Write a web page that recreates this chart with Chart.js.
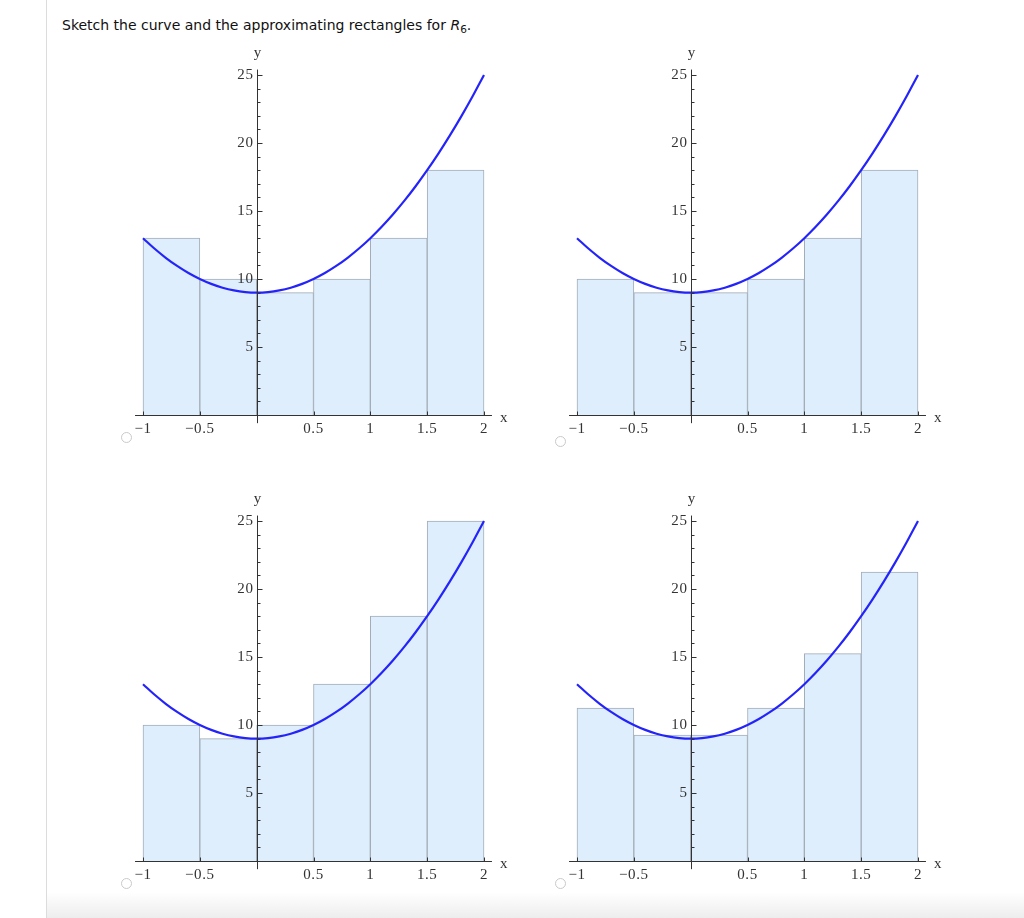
<!DOCTYPE html>
<html>
<head>
<meta charset="utf-8">
<script src="https://cdn.jsdelivr.net/npm/chart.js@4.4.1/dist/chart.umd.min.js"></script>
<style>
  body { margin: 0; background: #fff; width: 1024px; height: 918px; overflow: hidden; position: relative; }
  .rule { position: absolute; left: 46px; top: 0; width: 1px; height: 918px; background: #dcdcdc; }
  .shade { position: absolute; left: 47px; top: 892px; width: 977px; height: 26px;
           background: linear-gradient(to bottom, rgba(0,0,0,0), rgba(0,0,0,0.07)); }
  .title { position: absolute; left: 62px; top: 17px; font: 14px "DejaVu Sans", sans-serif; color: #111; white-space: nowrap; }
  .title sub { font-size: 10.5px; vertical-align: -3px; line-height: 0; }
  canvas { position: absolute; }
  .radio { position: absolute; width: 9px; height: 9px; border: 1px solid #c9c9c9; border-radius: 50%; background: #fff; }
</style>
</head>
<body>
<div class="rule"></div>
<div class="shade"></div>
<div class="title">Sketch the curve and the approximating rectangles for <i>R</i><sub>6</sub>.</div>

<canvas id="p1" width="430" height="410" style="left:100px; top:40px"></canvas>
<canvas id="p2" width="430" height="410" style="left:534px; top:40px"></canvas>
<canvas id="p3" width="430" height="410" style="left:100px; top:486px"></canvas>
<canvas id="p4" width="430" height="410" style="left:534px; top:486px"></canvas>

<div class="radio" style="left:121px; top:432px"></div>
<div class="radio" style="left:555px; top:436px"></div>
<div class="radio" style="left:121px; top:878px"></div>
<div class="radio" style="left:555px; top:878px"></div>

<script>
// curve
const curveX = [-1, -0.9, -0.8, -0.7, -0.6, -0.5, -0.4, -0.3, -0.2, -0.1, 0,
                0.1, 0.2, 0.3, 0.4, 0.5, 0.6, 0.7, 0.8, 0.9, 1,
                1.1, 1.2, 1.3, 1.4, 1.5, 1.6, 1.7, 1.8, 1.9, 2];
const curveY = [13, 12.24, 11.56, 10.96, 10.44, 10, 9.64, 9.36, 9.16, 9.04, 9,
                9.04, 9.16, 9.36, 9.64, 10, 10.44, 10.96, 11.56, 12.24, 13,
                13.84, 14.76, 15.76, 16.84, 18, 19.24, 20.56, 21.96, 23.44, 25];

// rectangle centres and heights for each answer choice
const rectMid = [-0.75, -0.25, 0.25, 0.75, 1.25, 1.75];
const heightsA = [13, 10, 9, 10, 13, 18];
const heightsB = [10, 9, 9, 10, 13, 18];
const heightsC = [10, 9, 10, 13, 18, 25];
const heightsD = [11.25, 9.25, 9.25, 11.25, 15.25, 21.25];

const xTickValues = [-1, -0.5, 0.5, 1, 1.5, 2];
const xTickLabels = ['\u22121', '\u22120.5', '0.5', '1', '1.5', '2'];
const yTickValues = [5, 10, 15, 20, 25];
const yTickLabels = ['5', '10', '15', '20', '25'];

const axisColor = '#333';
const labelFont = '15px "Liberation Serif", "Times New Roman", serif';

const mathAxes = {
  id: 'mathAxes',
  afterDatasetsDraw(chart) {
    const { ctx, scales: { x, y } } = chart;
    const x0 = Math.round(x.getPixelForValue(0)) + 0.5;
    const y0 = Math.round(y.getPixelForValue(0)) + 0.5;
    ctx.save();
    ctx.strokeStyle = axisColor;
    ctx.lineWidth = 1;
    ctx.beginPath();
    ctx.moveTo(x.getPixelForValue(-1.07), y0);
    ctx.lineTo(x.getPixelForValue(2.07), y0);
    ctx.moveTo(x0, y.getPixelForValue(25.4));
    ctx.lineTo(x0, y.getPixelForValue(-0.6));
    xTickValues.forEach(v => {
      const px = Math.round(x.getPixelForValue(v)) + 0.5;
      ctx.moveTo(px, y0);
      ctx.lineTo(px, y0 - 4);
    });
    for (let v = 1; v <= 25; v++) {
      const py = Math.round(y.getPixelForValue(v)) + 0.5;
      ctx.moveTo(x0, py);
      ctx.lineTo(x0 + (v % 5 === 0 ? 5 : 3), py);
    }
    ctx.stroke();

    ctx.fillStyle = '#333';
    ctx.font = labelFont;
    ctx.letterSpacing = '0.6px';
    ctx.textAlign = 'center';
    ctx.textBaseline = 'top';
    xTickValues.forEach((v, i) => ctx.fillText(xTickLabels[i], x.getPixelForValue(v), y0 + 6));
    ctx.textAlign = 'right';
    ctx.textBaseline = 'middle';
    yTickValues.forEach((v, i) => ctx.fillText(yTickLabels[i], x0 - 4, y.getPixelForValue(v)));
    ctx.letterSpacing = '0px';
    ctx.textAlign = 'center';
    ctx.textBaseline = 'alphabetic';
    ctx.fillText('y', x0, y.getPixelForValue(25) - 18);
    ctx.textAlign = 'left';
    ctx.fillText('x', x.getPixelForValue(2) + 16, y0 + 6);
    ctx.restore();
  }
};

function makePanel(id, heights) {
  return new Chart(document.getElementById(id), {
    type: 'bar',
    data: {
      datasets: [
        {
          type: 'line',
          data: curveX.map((v, i) => ({ x: v, y: curveY[i] })),
          borderColor: '#2424fa',
          borderWidth: 2.2,
          pointRadius: 0,
          tension: 0.4,
          fill: false,
          clip: false,
          order: 0
        },
        {
          type: 'bar',
          data: rectMid.map((v, i) => ({ x: v, y: heights[i] })),
          backgroundColor: '#deeefc',
          borderColor: '#a3adb8',
          borderWidth: 1,
          barPercentage: 1,
          categoryPercentage: 1,
          clip: false,
          order: 1
        }
      ]
    },
    options: {
      responsive: false,
      animation: false,
      layout: { padding: { left: 43, right: 46, top: 35, bottom: 35 } },
      plugins: { legend: { display: false }, tooltip: { enabled: false } },
      scales: {
        x: { type: 'linear', min: -1, max: 2, offset: false, display: false, ticks: { stepSize: 0.5 } },
        y: { type: 'linear', min: 0, max: 25, display: false, ticks: { stepSize: 5 } }
      }
    },
    plugins: [mathAxes]
  });
}

makePanel('p1', heightsA);
makePanel('p2', heightsB);
makePanel('p3', heightsC);
makePanel('p4', heightsD);
</script>
</body>
</html>
